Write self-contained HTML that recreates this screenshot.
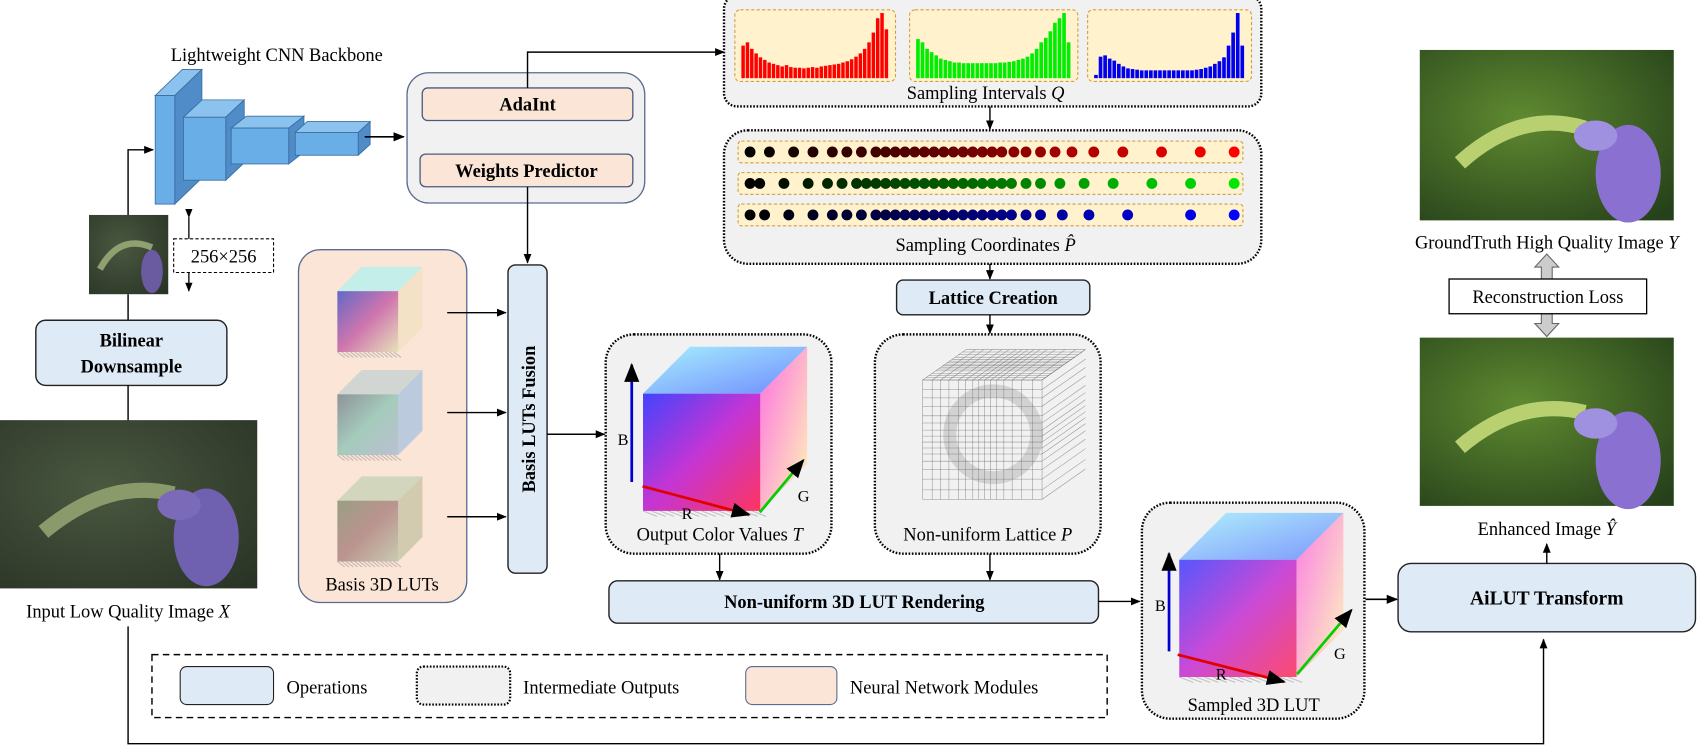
<!DOCTYPE html>
<html><head><meta charset="utf-8"><style>
html,body{margin:0;padding:0;background:#fff}
svg{display:block}
text{font-family:"Liberation Serif",serif;fill:#000}
.b{font-weight:bold}
</style></head><body>
<svg id="svg" width="1702" height="748" viewBox="0 0 1568 689" preserveAspectRatio="none" xmlns="http://www.w3.org/2000/svg">
<defs>
<marker id="ar" viewBox="0 0 10 10" refX="9" refY="5" markerWidth="7" markerHeight="7" orient="auto"><path d="M0,1 L10,5 L0,9 z" fill="#000"/></marker>
<linearGradient id="cubeFront" x1="0" y1="0" x2="1" y2="1"><stop offset="0" stop-color="#3030ff"/><stop offset="0.5" stop-color="#c020d0"/><stop offset="1" stop-color="#ff2050"/></linearGradient>
<linearGradient id="cubeTop" x1="0" y1="0" x2="1" y2="1"><stop offset="0" stop-color="#a0f0ff"/><stop offset="1" stop-color="#6080ff"/></linearGradient>
<linearGradient id="cubeSide" x1="0" y1="0" x2="1" y2="1"><stop offset="0" stop-color="#ff60e0"/><stop offset="1" stop-color="#fff8b0"/></linearGradient>
<linearGradient id="lut1" x1="0" y1="0" x2="1" y2="1"><stop offset="0" stop-color="#3040c0"/><stop offset="0.5" stop-color="#c050a0"/><stop offset="1" stop-color="#e0e0b0"/></linearGradient>
<linearGradient id="lut2" x1="0" y1="0" x2="1" y2="1"><stop offset="0" stop-color="#607080"/><stop offset="0.5" stop-color="#80c0b0"/><stop offset="1" stop-color="#a0b0d0"/></linearGradient>
<linearGradient id="lut3" x1="0" y1="0" x2="1" y2="1"><stop offset="0" stop-color="#708060"/><stop offset="0.5" stop-color="#a07070"/><stop offset="1" stop-color="#b0c0a0"/></linearGradient>
<radialGradient id="bgIn" cx="0.4" cy="0.4" r="0.8"><stop offset="0" stop-color="#4a5840"/><stop offset="1" stop-color="#2a3426"/></radialGradient>
<radialGradient id="bgOut" cx="0.4" cy="0.4" r="0.8"><stop offset="0" stop-color="#5f8a30"/><stop offset="1" stop-color="#25401a"/></radialGradient>
</defs>

<text x="255" y="56" font-size="17" text-anchor="middle">Lightweight CNN Backbone</text>
<g id="cnn"></g>
<line x1="336" y1="126" x2="372" y2="126" stroke="#000" stroke-width="1.5" marker-end="url(#ar)"/>

<rect x="375" y="67" width="219" height="120" rx="20" fill="#f1f1f1" stroke="#5a6a90" stroke-width="1.2"/>
<rect x="389" y="81" width="194" height="30" rx="5" fill="#fbe5d6" stroke="#4a5a80" stroke-width="1.2"/>
<text x="486" y="102" font-size="17" class="b" text-anchor="middle">AdaInt</text>
<rect x="387" y="142" width="196" height="30" rx="5" fill="#fbe5d6" stroke="#4a5a80" stroke-width="1.2"/>
<text x="485" y="163" font-size="17" class="b" text-anchor="middle">Weights Predictor</text>
<polyline points="486,81 486,48 667,48" fill="none" stroke="#000" stroke-width="1.3" marker-end="url(#ar)"/>
<line x1="486" y1="172" x2="486" y2="242" stroke="#000" stroke-width="1.3" marker-end="url(#ar)"/>

<polyline points="118,198 118,138 141,138" fill="none" stroke="#000" stroke-width="1.3" marker-end="url(#ar)"/>
<g>
<rect x="82" y="198" width="73" height="73" fill="url(#bgIn)"/>
<path d="M92,248 Q110,215 140,228" stroke="#90a070" stroke-width="6" fill="none"/>
<ellipse cx="140" cy="250" rx="10" ry="20" fill="#6a5aa0"/>
</g>
<line x1="174" y1="200" x2="174" y2="268" stroke="#000" stroke-width="1.2" marker-start="url(#ar)" marker-end="url(#ar)"/>
<rect x="160" y="220" width="92" height="31" fill="#fff" stroke="#000" stroke-dasharray="3,2"/>
<text x="206" y="242" font-size="17" text-anchor="middle">256×256</text>
<line x1="118" y1="271" x2="118" y2="295" stroke="#000" stroke-width="1.3"/>
<rect x="33" y="295" width="176" height="60" rx="9" fill="#deeaf6" stroke="#222" stroke-width="1.3"/>
<text x="121" y="319" font-size="17" class="b" text-anchor="middle">Bilinear</text>
<text x="121" y="343" font-size="17" class="b" text-anchor="middle">Downsample</text>
<line x1="118" y1="355" x2="118" y2="388" stroke="#000" stroke-width="1.3"/>

<g>
<rect x="0" y="387" width="237" height="155" fill="url(#bgIn)"/>
<path d="M40,490 Q100,440 160,455" stroke="#8a9a6a" stroke-width="14" fill="none"/>
<ellipse cx="190" cy="495" rx="30" ry="45" fill="#7060b0"/>
<ellipse cx="165" cy="465" rx="20" ry="14" fill="#7a6ab8"/>
</g>
<text x="118" y="569" font-size="17" text-anchor="middle">Input Low Quality Image <tspan font-style="italic">X</tspan></text>
<polyline points="118,577 118,685 1422,685 1422,589" fill="none" stroke="#000" stroke-width="1.3" marker-end="url(#ar)"/>

<rect x="275" y="230" width="155" height="325" rx="20" fill="#fbe5d6" stroke="#5a6a90" stroke-width="1.2"/>
<g id="basis"></g>
<text x="352" y="544" font-size="17" text-anchor="middle">Basis 3D LUTs</text>
<line x1="412" y1="288" x2="466" y2="288" stroke="#000" stroke-width="1.3" marker-end="url(#ar)"/>
<line x1="412" y1="380" x2="466" y2="380" stroke="#000" stroke-width="1.3" marker-end="url(#ar)"/>
<line x1="412" y1="476" x2="466" y2="476" stroke="#000" stroke-width="1.3" marker-end="url(#ar)"/>
<rect x="468" y="244" width="36" height="284" rx="7" fill="#deeaf6" stroke="#222" stroke-width="1.3"/>
<text transform="translate(493,386) rotate(-90)" font-size="17" class="b" text-anchor="middle">Basis LUTs Fusion</text>
<line x1="504" y1="400" x2="557" y2="400" stroke="#000" stroke-width="1.3" marker-end="url(#ar)"/>

<rect x="558" y="308" width="208" height="202" rx="26" fill="#f1f1f1" stroke="#000" stroke-width="2.2" stroke-dasharray="1.5,1.5"/>
<g id="outcube"></g>
<text x="663" y="498" font-size="17" text-anchor="middle">Output Color Values <tspan font-style="italic">T</tspan></text>
<line x1="663" y1="510" x2="663" y2="534" stroke="#000" stroke-width="1.3" marker-end="url(#ar)"/>

<rect x="806" y="308" width="208" height="202" rx="26" fill="#f1f1f1" stroke="#000" stroke-width="2.2" stroke-dasharray="1.5,1.5"/>
<g id="lattice"></g>
<text x="910" y="498" font-size="17" text-anchor="middle">Non-uniform Lattice <tspan font-style="italic">P</tspan></text>
<line x1="912" y1="510" x2="912" y2="534" stroke="#000" stroke-width="1.3" marker-end="url(#ar)"/>

<rect x="561" y="535" width="451" height="39" rx="8" fill="#deeaf6" stroke="#222" stroke-width="1.3"/>
<text x="787" y="560" font-size="17" class="b" text-anchor="middle">Non-uniform 3D LUT Rendering</text>
<line x1="1012" y1="554" x2="1050" y2="554" stroke="#000" stroke-width="1.3" marker-end="url(#ar)"/>

<rect x="667" y="-4" width="495" height="102" rx="12" fill="#f1f1f1" stroke="#000" stroke-width="2.2" stroke-dasharray="1.5,1.5"/>
<g id="hists"></g>
<text x="908" y="91" font-size="17" text-anchor="middle">Sampling Intervals <tspan font-style="italic">Q</tspan></text>
<line x1="912" y1="98" x2="912" y2="119" stroke="#000" stroke-width="1.3" marker-end="url(#ar)"/>

<rect x="667" y="120" width="495" height="123" rx="22" fill="#f1f1f1" stroke="#000" stroke-width="2.2" stroke-dasharray="1.5,1.5"/>
<g id="dots"></g>
<text x="908" y="231" font-size="17" text-anchor="middle">Sampling Coordinates <tspan font-style="italic">P̂</tspan></text>
<line x1="912" y1="243" x2="912" y2="257" stroke="#000" stroke-width="1.3" marker-end="url(#ar)"/>
<rect x="826" y="258" width="178" height="32" rx="6" fill="#deeaf6" stroke="#222" stroke-width="1.3"/>
<text x="915" y="280" font-size="17" class="b" text-anchor="middle">Lattice Creation</text>
<line x1="912" y1="290" x2="912" y2="307" stroke="#000" stroke-width="1.3" marker-end="url(#ar)"/>

<rect x="1052" y="463" width="205" height="199" rx="26" fill="#f1f1f1" stroke="#000" stroke-width="2.2" stroke-dasharray="1.5,1.5"/>
<g id="sampcube"></g>
<text x="1155" y="655" font-size="17" text-anchor="middle">Sampled 3D LUT</text>
<line x1="1258" y1="552" x2="1287" y2="552" stroke="#000" stroke-width="1.5" marker-end="url(#ar)"/>

<rect x="1288" y="519" width="274" height="63" rx="12" fill="#deeaf6" stroke="#222" stroke-width="1.3"/>
<text x="1425" y="557" font-size="18" class="b" text-anchor="middle">AiLUT Transform</text>
<line x1="1425" y1="519" x2="1425" y2="501" stroke="#000" stroke-width="1.3" marker-end="url(#ar)"/>
<text x="1425" y="493" font-size="17" text-anchor="middle">Enhanced Image <tspan font-style="italic">Ŷ</tspan></text>

<g id="gtimg">
<rect x="1308" y="46" width="234" height="157" fill="url(#bgOut)"/>
<path d="M1345,150 Q1400,100 1460,118" stroke="#b8d070" stroke-width="14" fill="none"/>
<ellipse cx="1500" cy="160" rx="30" ry="45" fill="#8a70d0"/>
<ellipse cx="1470" cy="125" rx="20" ry="14" fill="#a090e0"/>
</g>
<text x="1425" y="229" font-size="17" text-anchor="middle">GroundTruth High Quality Image <tspan font-style="italic">Y</tspan></text>
<g id="enimg">
<rect x="1308" y="311" width="234" height="155" fill="url(#bgOut)"/>
<path d="M1345,412 Q1400,365 1460,380" stroke="#b8d070" stroke-width="14" fill="none"/>
<ellipse cx="1500" cy="424" rx="30" ry="45" fill="#8a70d0"/>
<ellipse cx="1470" cy="390" rx="20" ry="14" fill="#a090e0"/>
</g>
<path d="M1425,234 L1414,246 L1420,246 L1420,257 L1430,257 L1430,246 L1436,246 Z" fill="#ccc" stroke="#666"/>
<path d="M1425,310 L1414,298 L1420,298 L1420,289 L1430,289 L1430,298 L1436,298 Z" fill="#ccc" stroke="#666"/>
<rect x="1335" y="257" width="182" height="32" fill="#fff" stroke="#000" stroke-width="1.2"/>
<text x="1426" y="279" font-size="17" text-anchor="middle">Reconstruction Loss</text>

<rect x="140" y="603" width="880" height="58" fill="none" stroke="#000" stroke-width="1.3" stroke-dasharray="6,4"/>
<rect x="166" y="614" width="86" height="35" rx="6" fill="#deeaf6" stroke="#222"/>
<text x="264" y="639" font-size="17">Operations</text>
<rect x="384" y="614" width="86" height="35" rx="6" fill="#f1f1f1" stroke="#000" stroke-width="2" stroke-dasharray="1.5,1.5"/>
<text x="482" y="639" font-size="17">Intermediate Outputs</text>
<rect x="687" y="614" width="84" height="35" rx="6" fill="#fbe5d6" stroke="#5a6a90"/>
<text x="783" y="639" font-size="17">Neural Network Modules</text>
</svg>
<script>
// ---- histogram data (sampling intervals) ----
const redHist=[0.50,0.55,0.45,0.38,0.32,0.28,0.24,0.22,0.20,0.18,0.20,0.17,0.16,0.16,0.15,0.16,0.17,0.16,0.18,0.19,0.20,0.21,0.22,0.24,0.26,0.29,0.33,0.38,0.45,0.55,0.70,0.92,1.00,0.75];
const greenHist=[0.60,0.55,0.45,0.40,0.35,0.30,0.28,0.26,0.24,0.24,0.23,0.23,0.23,0.23,0.23,0.23,0.23,0.23,0.24,0.24,0.25,0.26,0.28,0.30,0.33,0.38,0.45,0.55,0.62,0.72,0.85,0.92,1.00,0.55];
const blueHist=[0.05,0.33,0.35,0.30,0.27,0.22,0.18,0.15,0.14,0.13,0.12,0.12,0.12,0.12,0.12,0.12,0.12,0.12,0.12,0.12,0.12,0.12,0.13,0.14,0.16,0.18,0.22,0.26,0.32,0.50,0.70,1.00,0.50];
// ---- sampling coordinate positions (0..1) ----
const redDots=[0,0.04,0.09,0.13,0.17,0.20,0.23,0.26,0.28,0.30,0.32,0.34,0.36,0.38,0.40,0.42,0.44,0.46,0.48,0.50,0.52,0.545,0.57,0.60,0.63,0.665,0.71,0.77,0.85,0.93,1.0];
const greenDots=[0,0.02,0.07,0.12,0.16,0.19,0.22,0.24,0.26,0.28,0.30,0.32,0.34,0.36,0.38,0.40,0.42,0.44,0.46,0.48,0.50,0.52,0.54,0.57,0.60,0.64,0.69,0.75,0.83,0.91,1.0];
const blueDots=[0,0.03,0.08,0.13,0.17,0.20,0.23,0.26,0.28,0.30,0.32,0.34,0.36,0.38,0.40,0.42,0.44,0.46,0.48,0.50,0.52,0.54,0.57,0.60,0.645,0.70,0.78,0.91,1.0];

const NS='http://www.w3.org/2000/svg';
function mk(tag,attrs,parent){const e=document.createElementNS(NS,tag);for(const k in attrs)e.setAttribute(k,attrs[k]);parent.appendChild(e);return e;}

const cnn=document.getElementById('cnn');
[[143,88,18,100,25,24],[169,108,39,58,17,16],[213,118,53,33,14,11],[272,122,58,21,11,10]].forEach((b,i)=>{
  const [x,y,w,h,dx,dy]=b;
  const top=mk('polygon',{points:`${x},${y} ${x+dx},${y-dy} ${x+w+dx},${y-dy} ${x+w},${y}`,fill:'#8cc2ee',stroke:'#3a6ea0','stroke-width':0.8},cnn);
  
  
  const side=mk('polygon',{points:`${x+w},${y} ${x+w+dx},${y-dy} ${x+w+dx},${y+h-dy} ${x+w},${y+h}`,fill:'#4f8cc8',stroke:'#3a6ea0','stroke-width':0.8},cnn);
  
  
  const fr=mk('rect',{x:x,y:y,width:w,height:h,fill:'#6aaee8',stroke:'#3a6ea0','stroke-width':0.8},cnn);
  
  
});

function cube(g,cx,cy,s,front,top,side,op){
  const d=s*0.4;
  const x=cx-s/2-d/2,y=cy-s/2+d/2;
  mk('polygon',{points:`${x},${y} ${x+d},${y-d} ${x+s+d},${y-d} ${x+s},${y}`,fill:top,opacity:op},g);
  mk('polygon',{points:`${x+s},${y} ${x+s+d},${y-d} ${x+s+d},${y+s-d} ${x+s},${y+s}`,fill:side,opacity:op},g);
  mk('rect',{x:x,y:y,width:s,height:s,fill:front,opacity:op},g);
  for(let i=0;i<14;i++){mk('line',{x1:x+i*s/14,y1:y+s,x2:x+i*s/14+d*0.3,y2:y+s+5,stroke:'#667',opacity:0.35,'stroke-width':1},g);}
}
const basis=document.getElementById('basis');
cube(basis,350,285,56,'url(#lut1)','#b0f0f0','#f0e0c0',0.75);
cube(basis,350,380,56,'url(#lut2)','#c0d0d0','#a0c0e0',0.7);
cube(basis,350,478,56,'url(#lut3)','#c0d0b0','#c0c0a0',0.7);

const oc=document.getElementById('outcube');
cube(oc,668,395,108,'url(#cubeFront)','url(#cubeTop)','url(#cubeSide)',0.9);
mk('line',{x1:582,y1:444,x2:582,y2:336,stroke:'#0000d0','stroke-width':2.5,'marker-end':'url(#ar)'},oc);
mk('line',{x1:592,y1:448,x2:690,y2:474,stroke:'#e00000','stroke-width':2.5,'marker-end':'url(#ar)'},oc);
mk('line',{x1:700,y1:472,x2:740,y2:424,stroke:'#00d000','stroke-width':2.5,'marker-end':'url(#ar)'},oc);
mk('text',{x:569,y:410,'font-size':15},oc).textContent='B';
mk('text',{x:628,y:478,'font-size':15},oc).textContent='R';
mk('text',{x:735,y:462,'font-size':15},oc).textContent='G';

const sc=document.getElementById('sampcube');
cube(sc,1162,548,108,'url(#cubeFront)','url(#cubeTop)','url(#cubeSide)',0.8);
mk('line',{x1:1077,y1:600,x2:1077,y2:510,stroke:'#0000d0','stroke-width':2.5,'marker-end':'url(#ar)'},sc);
mk('line',{x1:1085,y1:603,x2:1183,y2:628,stroke:'#e00000','stroke-width':2.5,'marker-end':'url(#ar)'},sc);
mk('line',{x1:1195,y1:621,x2:1245,y2:562,stroke:'#00d000','stroke-width':2.5,'marker-end':'url(#ar)'},sc);
mk('text',{x:1064,y:563,'font-size':15},sc).textContent='B';
mk('text',{x:1120,y:626,'font-size':15},sc).textContent='R';
mk('text',{x:1229,y:607,'font-size':15},sc).textContent='G';

const lat=document.getElementById('lattice');
(function(){
  const x=850,y=350,s=110,d=40;
  const fr=[0,0.08,0.15,0.22,0.3,0.36,0.42,0.47,0.52,0.57,0.62,0.68,0.75,0.83,0.92,1];
  fr.forEach(f=>{
    mk('line',{x1:x+f*s,y1:y,x2:x+f*s,y2:y+s,stroke:'#555','stroke-width':0.5,opacity:0.6},lat);
    mk('line',{x1:x,y1:y+f*s,x2:x+s,y2:y+f*s,stroke:'#555','stroke-width':0.5,opacity:0.6},lat);
    mk('line',{x1:x+f*s,y1:y,x2:x+f*s+d,y2:y-d*0.7,stroke:'#555','stroke-width':0.5,opacity:0.6},lat);
    mk('line',{x1:x+s,y1:y+f*s,x2:x+s+d,y2:y+f*s-d*0.7,stroke:'#555','stroke-width':0.5,opacity:0.6},lat);
    mk('line',{x1:x+f*d,y1:y-f*d*0.7,x2:x+s+f*d,y2:y-f*d*0.7,stroke:'#555','stroke-width':0.5,opacity:0.6},lat);
  });
  mk('ellipse',{cx:x+s/2+10,cy:y+s/2-5,rx:40,ry:40,fill:'none',stroke:'#777','stroke-width':12,opacity:0.25},lat);
})();

const hists=document.getElementById('hists');
[[redHist,677,148,'#ff0000','red'],[greenHist,838,155,'#00ee00','green'],[blueHist,1002,151,'#0000ee','blue']].forEach(h=>{
  const [vals,x0,w,col,nm]=h;
  const box=mk('rect',{x:x0,y:9,width:w,height:66,rx:5,fill:'#fff2cc',stroke:'#d0a040','stroke-dasharray':'3,2'},hists);
  
  
  const bx=x0+6,bw=(w-12)/vals.length,base=72,maxH=60;
  vals.forEach((v,i)=>{
    const r=mk('rect',{x:bx+i*bw,y:base-v*maxH,width:bw*0.8,height:v*maxH,fill:col},hists);
    
    
  });
});

const dots=document.getElementById('dots');
[[redDots,140,[255,0,0],'red'],[greenDots,169,[0,230,0],'green'],[blueDots,198,[0,0,255],'blue']].forEach(row=>{
  const [vals,cy,c,nm]=row;
  const box=mk('rect',{x:680,y:cy-10,width:465,height:20,rx:3,fill:'#fff2cc',stroke:'#d0a040','stroke-dasharray':'3,2'},dots);
  
  
  const x0=691,x1=1137;
  vals.forEach(v=>{
    const col=`rgb(${Math.round(c[0]*v)},${Math.round(c[1]*v)},${Math.round(c[2]*v)})`;
    const d=mk('circle',{cx:x0+v*(x1-x0),cy:cy,r:5,fill:col},dots);
    
    
  });
});
</script>
</body></html>
